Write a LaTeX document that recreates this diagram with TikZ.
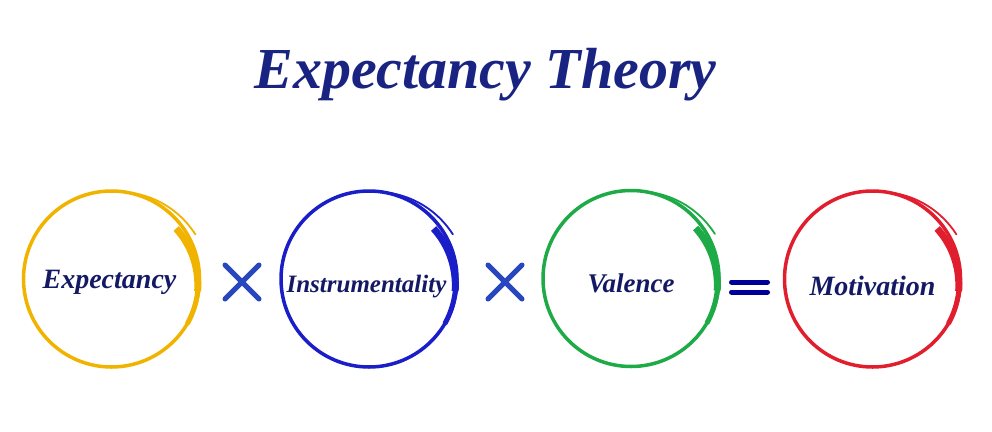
\documentclass[tikz,border=0pt]{standalone}
\usepackage{fontspec}
\setmainfont{Liberation Serif}
\usetikzlibrary{calc}

\definecolor{ringyellow}{RGB}{240,180,0}
\definecolor{ringblue}{RGB}{25,30,200}
\definecolor{ringgreen}{RGB}{30,170,70}
\definecolor{ringred}{RGB}{225,30,45}
\definecolor{opblue}{RGB}{40,70,190}
\definecolor{textnavy}{RGB}{20,25,100}
\definecolor{titleblue}{RGB}{25,35,130}

\tikzset{
  lbl/.style={text=textnavy, inner sep=0pt, anchor=base,
    font=\fontsize{28}{30}\selectfont\bfseries\itshape},
  opline/.style={draw=opblue, line width=5pt, line cap=round},
}

% hand drawn ring round a named centre
\newcommand{\handring}[2]{%
  \draw[#2, line width=3.5pt] (#1) circle[radius=88];
  \draw[#2, line width=7pt, shift={(#1)}]
    plot[domain=-38:8, smooth, variable=\t] (\t:{82+5*(\t+38)/46});
  \draw[#2, line width=5pt, line cap=round, shift={(#1)}]
    plot[domain=6:30, smooth, variable=\t] (\t:{87+(\t-6)/24});
  \draw[#2, line width=1.8pt, line cap=round, shift={(#1)}]
    plot[domain=-80:-28, smooth, variable=\t] (\t:{88+7*(\t+80)/52});
}

\begin{document}
\begin{tikzpicture}[x=1pt,y=-1pt]
\useasboundingbox (0,0) rectangle (992,431);

\node (title) [lbl, text=titleblue, font=\fontsize{58}{64}\selectfont\bfseries\itshape]
  at (485.5,88) {Expectancy Theory};

\coordinate (cE) at (111.5,279);
\coordinate (cI) at (369,279);
\coordinate (cV) at (631,278.5);
\coordinate (cM) at (872.5,279);

\handring{cE}{ringyellow}
\handring{cI}{ringblue}
\handring{cV}{ringgreen}
\handring{cM}{ringred}

\node (expect) [lbl] at (109.5,288) {Expectancy};
\node (instr) [lbl, font=\fontsize{25}{30}\selectfont\bfseries\itshape] at (366.5,292) {Instrumentality};
\node (valence) [lbl, font=\fontsize{27}{30}\selectfont\bfseries\itshape] at (631,292) {Valence};
\node (motiv) [lbl] at (872.5,295) {Motivation};

\coordinate (times1) at (242,282);
\coordinate (times2) at (505,282);
\coordinate (equals) at (749.5,287);

\draw[opline, shift={(times1)}] (-17,-17) -- (17,17) (-17,17) -- (17,-17);
\draw[opline, shift={(times2)}] (-17,-17) -- (17,17) (-17,17) -- (17,-17);
\draw[opline, draw=blue!60!black, shift={(equals)}] (-18,-5) -- (18,-5) (-18,5) -- (18,5);
\end{tikzpicture}
\end{document}
